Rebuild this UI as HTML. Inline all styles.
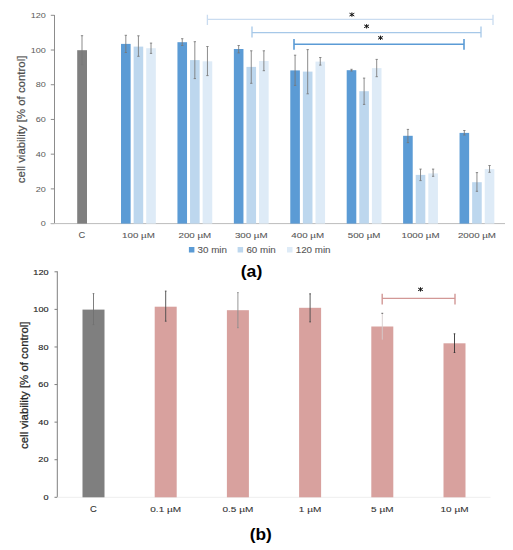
<!DOCTYPE html>
<html><head><meta charset="utf-8"><style>
html,body{margin:0;padding:0;background:#fff;width:513px;height:550px;overflow:hidden}
svg{display:block;font-family:"Liberation Sans", sans-serif}
</style></head><body>
<svg width="513" height="550" viewBox="0 0 513 550">
<rect width="513" height="550" fill="#fff"/>
<line x1="54.5" y1="15" x2="54.5" y2="223.6" stroke="#8c8c8c" stroke-width="1"/>
<line x1="50.8" y1="223.60" x2="54.5" y2="223.60" stroke="#8c8c8c" stroke-width="1"/>
<text x="45.90" y="226.35" text-anchor="end" font-size="7.7" font-weight="normal" fill="#595959" textLength="5.05" lengthAdjust="spacingAndGlyphs">0</text>
<line x1="50.8" y1="188.88" x2="54.5" y2="188.88" stroke="#8c8c8c" stroke-width="1"/>
<text x="45.90" y="191.63" text-anchor="end" font-size="7.7" font-weight="normal" fill="#595959" textLength="10.11" lengthAdjust="spacingAndGlyphs">20</text>
<line x1="50.8" y1="154.17" x2="54.5" y2="154.17" stroke="#8c8c8c" stroke-width="1"/>
<text x="45.90" y="156.92" text-anchor="end" font-size="7.7" font-weight="normal" fill="#595959" textLength="10.11" lengthAdjust="spacingAndGlyphs">40</text>
<line x1="50.8" y1="119.45" x2="54.5" y2="119.45" stroke="#8c8c8c" stroke-width="1"/>
<text x="45.90" y="122.20" text-anchor="end" font-size="7.7" font-weight="normal" fill="#595959" textLength="10.11" lengthAdjust="spacingAndGlyphs">60</text>
<line x1="50.8" y1="84.73" x2="54.5" y2="84.73" stroke="#8c8c8c" stroke-width="1"/>
<text x="45.90" y="87.48" text-anchor="end" font-size="7.7" font-weight="normal" fill="#595959" textLength="10.11" lengthAdjust="spacingAndGlyphs">80</text>
<line x1="50.8" y1="50.02" x2="54.5" y2="50.02" stroke="#8c8c8c" stroke-width="1"/>
<text x="45.90" y="52.77" text-anchor="end" font-size="7.7" font-weight="normal" fill="#595959" textLength="15.16" lengthAdjust="spacingAndGlyphs">100</text>
<line x1="50.8" y1="15.30" x2="54.5" y2="15.30" stroke="#8c8c8c" stroke-width="1"/>
<text x="45.90" y="18.05" text-anchor="end" font-size="7.7" font-weight="normal" fill="#595959" textLength="15.16" lengthAdjust="spacingAndGlyphs">120</text>
<line x1="50.8" y1="223.6" x2="505" y2="223.6" stroke="#bcbcbc" stroke-width="1"/>
<rect x="77.2" y="50.2" width="9.799999999999999" height="173.40" fill="#7f7f7f"/>
<rect x="121.02" y="43.9" width="9.6" height="179.70" fill="#5b9bd5"/>
<rect x="133.62" y="46.6" width="9.6" height="177.00" fill="#bdd7ee"/>
<rect x="146.22" y="48.2" width="9.6" height="175.40" fill="#deebf7"/>
<rect x="177.44" y="42.2" width="9.6" height="181.40" fill="#5b9bd5"/>
<rect x="190.04" y="60.1" width="9.6" height="163.50" fill="#bdd7ee"/>
<rect x="202.64" y="61.3" width="9.6" height="162.30" fill="#deebf7"/>
<rect x="233.86" y="49.0" width="9.6" height="174.60" fill="#5b9bd5"/>
<rect x="246.46" y="66.9" width="9.6" height="156.70" fill="#bdd7ee"/>
<rect x="259.06" y="61.0" width="9.6" height="162.60" fill="#deebf7"/>
<rect x="290.28" y="70.4" width="9.6" height="153.20" fill="#5b9bd5"/>
<rect x="302.88" y="71.6" width="9.6" height="152.00" fill="#bdd7ee"/>
<rect x="315.48" y="61.6" width="9.6" height="162.00" fill="#deebf7"/>
<rect x="346.70" y="70.2" width="9.6" height="153.40" fill="#5b9bd5"/>
<rect x="359.30" y="91.2" width="9.6" height="132.40" fill="#bdd7ee"/>
<rect x="371.90" y="68.1" width="9.6" height="155.50" fill="#deebf7"/>
<rect x="403.12" y="135.8" width="9.6" height="87.80" fill="#5b9bd5"/>
<rect x="415.72" y="174.9" width="9.6" height="48.70" fill="#bdd7ee"/>
<rect x="428.32" y="173.4" width="9.6" height="50.20" fill="#deebf7"/>
<rect x="459.54" y="132.9" width="9.6" height="90.70" fill="#5b9bd5"/>
<rect x="472.14" y="182.2" width="9.6" height="41.40" fill="#bdd7ee"/>
<rect x="484.74" y="169.1" width="9.6" height="54.50" fill="#deebf7"/>
<path d="M82.00 35.7 V64.7 M80.85 35.7 H83.15 M80.85 64.7 H83.15" stroke="#777777" stroke-width="0.85" fill="none"/>
<path d="M125.82 35.3 V52.5 M124.67 35.3 H126.97 M124.67 52.5 H126.97" stroke="#777777" stroke-width="0.85" fill="none"/>
<path d="M138.42 35.8 V56.3 M137.27 35.8 H139.57 M137.27 56.3 H139.57" stroke="#777777" stroke-width="0.85" fill="none"/>
<path d="M151.02 43.1 V53.4 M149.87 43.1 H152.17 M149.87 53.4 H152.17" stroke="#777777" stroke-width="0.85" fill="none"/>
<path d="M182.24 38.7 V45.5 M181.09 38.7 H183.39 M181.09 45.5 H183.39" stroke="#777777" stroke-width="0.85" fill="none"/>
<path d="M194.84 41.7 V78.6 M193.69 41.7 H195.99 M193.69 78.6 H195.99" stroke="#777777" stroke-width="0.85" fill="none"/>
<path d="M207.44 46.5 V75.6 M206.29 46.5 H208.59 M206.29 75.6 H208.59" stroke="#777777" stroke-width="0.85" fill="none"/>
<path d="M238.66 45.5 V52.9 M237.51 45.5 H239.81 M237.51 52.9 H239.81" stroke="#777777" stroke-width="0.85" fill="none"/>
<path d="M251.26 50.8 V83.3 M250.11 50.8 H252.41 M250.11 83.3 H252.41" stroke="#777777" stroke-width="0.85" fill="none"/>
<path d="M263.86 50.8 V70.7 M262.71 50.8 H265.01 M262.71 70.7 H265.01" stroke="#777777" stroke-width="0.85" fill="none"/>
<path d="M295.08 55.2 V85.4 M293.93 55.2 H296.23 M293.93 85.4 H296.23" stroke="#777777" stroke-width="0.85" fill="none"/>
<path d="M307.68 49.6 V93.8 M306.53 49.6 H308.83 M306.53 93.8 H308.83" stroke="#777777" stroke-width="0.85" fill="none"/>
<path d="M320.28 57.5 V65.1 M319.13 57.5 H321.43 M319.13 65.1 H321.43" stroke="#777777" stroke-width="0.85" fill="none"/>
<path d="M351.50 69.3 V71.0 M350.35 69.3 H352.65 M350.35 71.0 H352.65" stroke="#777777" stroke-width="0.85" fill="none"/>
<path d="M364.10 78.1 V104.4 M362.95 78.1 H365.25 M362.95 104.4 H365.25" stroke="#777777" stroke-width="0.85" fill="none"/>
<path d="M376.70 59.4 V76.7 M375.55 59.4 H377.85 M375.55 76.7 H377.85" stroke="#777777" stroke-width="0.85" fill="none"/>
<path d="M407.92 129.4 V142.6 M406.77 129.4 H409.07 M406.77 142.6 H409.07" stroke="#777777" stroke-width="0.85" fill="none"/>
<path d="M420.52 169.1 V180.6 M419.37 169.1 H421.67 M419.37 180.6 H421.67" stroke="#777777" stroke-width="0.85" fill="none"/>
<path d="M433.12 169.1 V176.3 M431.97 169.1 H434.27 M431.97 176.3 H434.27" stroke="#777777" stroke-width="0.85" fill="none"/>
<path d="M464.34 130.5 V135.0 M463.19 130.5 H465.49 M463.19 135.0 H465.49" stroke="#777777" stroke-width="0.85" fill="none"/>
<path d="M476.94 172.6 V191.3 M475.79 172.6 H478.09 M475.79 191.3 H478.09" stroke="#777777" stroke-width="0.85" fill="none"/>
<path d="M489.54 165.5 V172.3 M488.39 165.5 H490.69 M488.39 172.3 H490.69" stroke="#777777" stroke-width="0.85" fill="none"/>
<path d="M207.4 14.7 V25.0 M207.4 19.4 H493.0 M493.0 14.7 V25.0" stroke="#cadcf0" stroke-width="1.3" fill="none"/>
<circle cx="351.90" cy="14.60" r="0.9" fill="#1a1a1a"/>
<path d="M351.90 12.40 V16.80 M349.48 13.20 L354.32 16.00 M349.48 16.00 L354.32 13.20" stroke="#1a1a1a" stroke-width="1.0" fill="none"/>
<path d="M252.0 26.6 V37.5 M252.0 32.6 H481.0 M481.0 26.6 V37.5" stroke="#a6c8e8" stroke-width="1.3" fill="none"/>
<circle cx="366.60" cy="26.30" r="0.9" fill="#1a1a1a"/>
<path d="M366.60 24.10 V28.50 M364.18 24.90 L369.02 27.70 M364.18 27.70 L369.02 24.90" stroke="#1a1a1a" stroke-width="1.0" fill="none"/>
<path d="M294.0 39.0 V49.8 M294.0 44.3 H464.0 M464.0 39.0 V49.8" stroke="#5b9bd5" stroke-width="1.6" fill="none"/>
<circle cx="380.50" cy="37.80" r="0.9" fill="#1a1a1a"/>
<path d="M380.50 35.60 V40.00 M378.08 36.40 L382.92 39.20 M378.08 39.20 L382.92 36.40" stroke="#1a1a1a" stroke-width="1.0" fill="none"/>
<text x="82.00" y="238.30" text-anchor="middle" font-size="8.3" font-weight="normal" fill="#555555" textLength="6.73" lengthAdjust="spacingAndGlyphs" stroke="#595959" stroke-width="0.08">C</text>
<text x="138.42" y="238.30" text-anchor="middle" font-size="7.6" font-weight="normal" fill="#555555" textLength="32.65" lengthAdjust="spacingAndGlyphs" stroke="#595959" stroke-width="0.08">100 µM</text>
<text x="194.84" y="238.30" text-anchor="middle" font-size="7.6" font-weight="normal" fill="#555555" textLength="32.65" lengthAdjust="spacingAndGlyphs" stroke="#595959" stroke-width="0.08">200 µM</text>
<text x="251.26" y="238.30" text-anchor="middle" font-size="7.6" font-weight="normal" fill="#555555" textLength="32.65" lengthAdjust="spacingAndGlyphs" stroke="#595959" stroke-width="0.08">300 µM</text>
<text x="307.68" y="238.30" text-anchor="middle" font-size="7.6" font-weight="normal" fill="#555555" textLength="32.65" lengthAdjust="spacingAndGlyphs" stroke="#595959" stroke-width="0.08">400 µM</text>
<text x="364.10" y="238.30" text-anchor="middle" font-size="7.6" font-weight="normal" fill="#555555" textLength="32.65" lengthAdjust="spacingAndGlyphs" stroke="#595959" stroke-width="0.08">500 µM</text>
<text x="420.52" y="238.30" text-anchor="middle" font-size="7.6" font-weight="normal" fill="#555555" textLength="38.06" lengthAdjust="spacingAndGlyphs" stroke="#595959" stroke-width="0.08">1000 µM</text>
<text x="476.94" y="238.30" text-anchor="middle" font-size="7.6" font-weight="normal" fill="#555555" textLength="38.06" lengthAdjust="spacingAndGlyphs" stroke="#595959" stroke-width="0.08">2000 µM</text>
<rect x="188.9" y="247" width="5.5" height="5.5" fill="#5b9bd5"/>
<text x="197.60" y="252.60" text-anchor="start" font-size="8.3" font-weight="normal" fill="#555555" textLength="29.40" lengthAdjust="spacingAndGlyphs" stroke="#595959" stroke-width="0.08">30 min</text>
<rect x="237.6" y="247" width="5.5" height="5.5" fill="#bdd7ee"/>
<text x="246.40" y="252.60" text-anchor="start" font-size="8.3" font-weight="normal" fill="#555555" textLength="29.40" lengthAdjust="spacingAndGlyphs" stroke="#595959" stroke-width="0.08">60 min</text>
<rect x="287.0" y="247" width="5.5" height="5.5" fill="#deebf7"/>
<text x="295.70" y="252.60" text-anchor="start" font-size="8.3" font-weight="normal" fill="#555555" textLength="34.85" lengthAdjust="spacingAndGlyphs" stroke="#595959" stroke-width="0.08">120 min</text>
<text x="251.50" y="277.00" text-anchor="middle" font-size="16" font-weight="bold" fill="#000" textLength="21.53" lengthAdjust="spacingAndGlyphs">(a)</text>
<text transform="translate(24.6 119.4) rotate(-90)" text-anchor="middle" font-size="11.3" fill="#4d4d4d" stroke="#4d4d4d" stroke-width="0.2" textLength="127.5" lengthAdjust="spacingAndGlyphs">cell viability [% of control]</text>
<line x1="57.3" y1="271.3" x2="57.3" y2="497.3" stroke="#7f7f7f" stroke-width="1"/>
<line x1="54.5" y1="497.30" x2="57.3" y2="497.30" stroke="#7f7f7f" stroke-width="1"/>
<text x="48.50" y="500.05" text-anchor="end" font-size="7.7" font-weight="normal" fill="#262626" textLength="5.05" lengthAdjust="spacingAndGlyphs" stroke="#262626" stroke-width="0.15">0</text>
<line x1="54.5" y1="459.72" x2="57.3" y2="459.72" stroke="#7f7f7f" stroke-width="1"/>
<text x="48.50" y="462.47" text-anchor="end" font-size="7.7" font-weight="normal" fill="#262626" textLength="10.11" lengthAdjust="spacingAndGlyphs" stroke="#262626" stroke-width="0.15">20</text>
<line x1="54.5" y1="422.13" x2="57.3" y2="422.13" stroke="#7f7f7f" stroke-width="1"/>
<text x="48.50" y="424.88" text-anchor="end" font-size="7.7" font-weight="normal" fill="#262626" textLength="10.11" lengthAdjust="spacingAndGlyphs" stroke="#262626" stroke-width="0.15">40</text>
<line x1="54.5" y1="384.55" x2="57.3" y2="384.55" stroke="#7f7f7f" stroke-width="1"/>
<text x="48.50" y="387.30" text-anchor="end" font-size="7.7" font-weight="normal" fill="#262626" textLength="10.11" lengthAdjust="spacingAndGlyphs" stroke="#262626" stroke-width="0.15">60</text>
<line x1="54.5" y1="346.97" x2="57.3" y2="346.97" stroke="#7f7f7f" stroke-width="1"/>
<text x="48.50" y="349.72" text-anchor="end" font-size="7.7" font-weight="normal" fill="#262626" textLength="10.11" lengthAdjust="spacingAndGlyphs" stroke="#262626" stroke-width="0.15">80</text>
<line x1="54.5" y1="309.38" x2="57.3" y2="309.38" stroke="#7f7f7f" stroke-width="1"/>
<text x="48.50" y="312.13" text-anchor="end" font-size="7.7" font-weight="normal" fill="#262626" textLength="15.16" lengthAdjust="spacingAndGlyphs" stroke="#262626" stroke-width="0.15">100</text>
<line x1="54.5" y1="271.80" x2="57.3" y2="271.80" stroke="#7f7f7f" stroke-width="1"/>
<text x="48.50" y="274.55" text-anchor="end" font-size="7.7" font-weight="normal" fill="#262626" textLength="15.16" lengthAdjust="spacingAndGlyphs" stroke="#262626" stroke-width="0.15">120</text>
<line x1="57.3" y1="497.3" x2="490.5" y2="497.3" stroke="#eeeeee" stroke-width="1"/>
<rect x="82.50" y="309.6" width="22.0" height="187.70" fill="#7f7f7f"/>
<rect x="154.70" y="306.7" width="22.0" height="190.60" fill="#d8a19e"/>
<rect x="226.90" y="310.2" width="22.0" height="187.10" fill="#d8a19e"/>
<rect x="299.10" y="307.8" width="22.0" height="189.50" fill="#d8a19e"/>
<rect x="371.30" y="326.5" width="22.0" height="170.80" fill="#d8a19e"/>
<rect x="443.50" y="343.3" width="22.0" height="154.00" fill="#d8a19e"/>
<path d="M93.50 293.6 V324.6 M92.70 293.6 H94.30 M92.70 324.6 H94.30" stroke="#707070" stroke-width="0.9" fill="none"/>
<path d="M165.70 291.1 V321.2 M164.90 291.1 H166.50 M164.90 321.2 H166.50" stroke="#4a4a4a" stroke-width="0.9" fill="none"/>
<path d="M237.90 292.6 V327.7 M237.10 292.6 H238.70 M237.10 327.7 H238.70" stroke="#8c8c8c" stroke-width="0.9" fill="none"/>
<path d="M310.10 293.8 V321.9 M309.30 293.8 H310.90 M309.30 321.9 H310.90" stroke="#4a4a4a" stroke-width="0.9" fill="none"/>
<path d="M382.30 313.3 V339.7" stroke="#d6cccc" stroke-width="0.9" fill="none"/>
<path d="M381.40 313.3 H383.20" stroke="#555" stroke-width="0.9" fill="none"/>
<path d="M454.50 333.8 V352.5 M453.70 333.8 H455.30 M453.70 352.5 H455.30" stroke="#333333" stroke-width="0.9" fill="none"/>
<path d="M382.2 293.8 V304.5 M382.2 298.4 H455 M455 293.8 V304.5" stroke="#d29896" stroke-width="1.4" fill="none"/>
<circle cx="420.50" cy="289.40" r="0.9" fill="#1a1a1a"/>
<path d="M420.50 287.20 V291.60 M418.08 288.00 L422.92 290.80 M418.08 290.80 L422.92 288.00" stroke="#1a1a1a" stroke-width="1.0" fill="none"/>
<text x="93.50" y="512.20" text-anchor="middle" font-size="8.4" font-weight="normal" fill="#303030" textLength="6.81" lengthAdjust="spacingAndGlyphs" stroke="#303030" stroke-width="0.08">C</text>
<text x="165.70" y="512.20" text-anchor="middle" font-size="7.7" font-weight="normal" fill="#303030" textLength="30.81" lengthAdjust="spacingAndGlyphs" stroke="#303030" stroke-width="0.08">0.1 µM</text>
<text x="237.90" y="512.20" text-anchor="middle" font-size="7.7" font-weight="normal" fill="#303030" textLength="30.81" lengthAdjust="spacingAndGlyphs" stroke="#303030" stroke-width="0.08">0.5 µM</text>
<text x="310.10" y="512.20" text-anchor="middle" font-size="7.7" font-weight="normal" fill="#303030" textLength="22.46" lengthAdjust="spacingAndGlyphs" stroke="#303030" stroke-width="0.08">1 µM</text>
<text x="382.30" y="512.20" text-anchor="middle" font-size="7.7" font-weight="normal" fill="#303030" textLength="22.46" lengthAdjust="spacingAndGlyphs" stroke="#303030" stroke-width="0.08">5 µM</text>
<text x="454.50" y="512.20" text-anchor="middle" font-size="7.7" font-weight="normal" fill="#303030" textLength="28.03" lengthAdjust="spacingAndGlyphs" stroke="#303030" stroke-width="0.08">10 µM</text>
<text x="260.70" y="540.20" text-anchor="middle" font-size="16" font-weight="bold" fill="#000" textLength="22.09" lengthAdjust="spacingAndGlyphs">(b)</text>
<text transform="translate(28.3 385.2) rotate(-90)" text-anchor="middle" font-size="11.3" fill="#262626" stroke="#262626" stroke-width="0.25" textLength="127.5" lengthAdjust="spacingAndGlyphs">cell viability [% of control]</text>
</svg>
</body></html>
